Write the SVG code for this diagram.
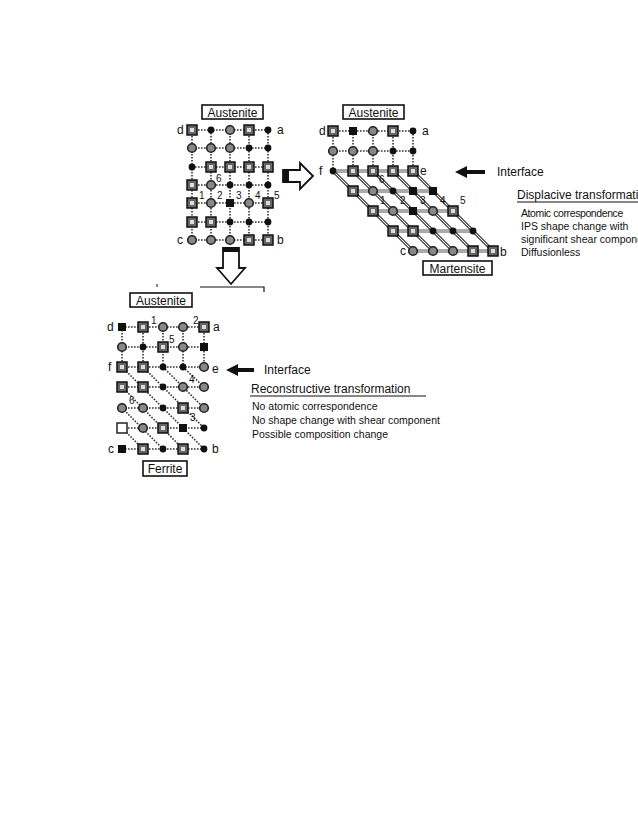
<svg xmlns="http://www.w3.org/2000/svg" xmlns:xlink="http://www.w3.org/1999/xlink" width="638" height="826" viewBox="0 0 638 826">
<style>
text{font-family:"Liberation Sans",Arial,sans-serif;fill:#111}
.lb{font-size:12px}
.num{font-size:10px}
.dot{stroke:#333;stroke-width:1.6;stroke-dasharray:1.6 1.4;fill:none}
.sh1{stroke:#555;stroke-width:3.2;fill:none}
.sh2{stroke:#fff;stroke-width:1;fill:none}
.box{fill:#fff;stroke:#111;stroke-width:1.6}
.t{font-size:12px}
.s{font-size:10.5px}
</style>
<defs>
<g id="S"><rect x="-5" y="-5" width="10" height="10" fill="#666" stroke="#111" stroke-width="1.5"/><rect x="-2" y="-2" width="4" height="4" fill="#ddd"/></g>
<g id="C"><circle r="4.3" fill="#888" stroke="#222" stroke-width="1.6"/></g>
<g id="D"><circle r="3.4" fill="#111"/></g>
<g id="F"><rect x="-4" y="-4" width="8" height="8" fill="#111"/></g>
<g id="O"><rect x="-5" y="-5" width="10" height="10" fill="#fff" stroke="#222" stroke-width="1.5"/></g>
</defs>
<rect width="638" height="826" fill="#fff"/>

<g id="connectors">
<!-- lattice 1 grid -->
<path class="dot" d="M192 130H268M192 148H268M192 167H268M192 185H268M192 203H268M192 222H268M192 240H268M192 130V240M211 130V240M230 130V240M249 130V240M268 130V240"/>
<!-- lattice 2 top grid -->
<path class="dot" d="M333 131H413M333 151H413M333 171H413M333 131V171M353 131V171M373 131V171M393 131V171M413 131V171"/>
<path class="sh1" d="M333 171H413M353 191H433M373 211H453M393 231H473M413 251H493M333 171L413 251M353 171L433 251M373 171L453 251M393 171L473 251M413 171L493 251"/>
<path class="sh2" d="M333 171H413M353 191H433M373 211H453M393 231H473M413 251H493M333 171L413 251M353 171L433 251M373 171L453 251M393 171L473 251M413 171L493 251"/>
<!-- lattice 3 -->
<path class="dot" d="M122 327H204M122 347H204M122 367H204M122 327V367M143 327V367M163 327V367M183 327V367M204 327V367M122 387H204M122 408H204M122 428H204M122 449H204"/>
<path class="dot" d="M122 367L204 449M143 367L204 428M163 367L204 408M183 367L204 387M122 387L183 449M122 408L163 449M122 428L143 449"/>
<!-- arrows -->
<path d="M283 170H300V163L313 176L300 189V182H283Z" fill="#fff" stroke="#111" stroke-width="1.8"/>
<rect x="283" y="170" width="6" height="12" fill="#111"/>
<path d="M223 248H239V268H245L231 284L217 268H223Z" fill="#fff" stroke="#111" stroke-width="1.8"/>
<rect x="223" y="247" width="16" height="5" fill="#111"/>
<path d="M200 287H264V292" fill="none" stroke="#111" stroke-width="1.2"/>
<path d="M157 284V287" stroke="#111" stroke-width="1"/>
<path d="M485 170H467V166L455 172L467 178V174H485Z" fill="#111"/>
<path d="M254 368H238V364L226 370L238 376V372H254Z" fill="#111"/>
</g>

<g id="lattice1">
<rect class="box" x="202" y="105" width="61" height="14"/><text class="lb" x="232.5" y="117" text-anchor="middle">Austenite</text>
<text class="lb" x="177" y="134">d</text><text class="lb" x="277" y="134">a</text>
<text class="lb" x="177" y="244">c</text><text class="lb" x="277" y="244">b</text>
<use href="#S" x="192" y="130"/><use href="#D" x="211" y="130"/><use href="#C" x="230" y="130"/><use href="#S" x="249" y="130"/><use href="#D" x="268" y="130"/>
<use href="#C" x="192" y="148"/><use href="#C" x="211" y="148"/><use href="#C" x="230" y="148"/><use href="#D" x="249" y="148"/><use href="#D" x="268" y="148"/>
<use href="#D" x="192" y="167"/><use href="#S" x="211" y="167"/><use href="#S" x="230" y="167"/><use href="#S" x="249" y="167"/><use href="#S" x="268" y="167"/>
<use href="#S" x="192" y="185"/><use href="#C" x="211" y="185"/><use href="#D" x="230" y="185"/><use href="#D" x="249" y="185"/><use href="#D" x="268" y="185"/>
<use href="#S" x="192" y="203"/><use href="#C" x="211" y="203"/><use href="#F" x="230" y="203"/><use href="#C" x="249" y="203"/><use href="#S" x="268" y="203"/>
<use href="#S" x="192" y="222"/><use href="#S" x="211" y="222"/><use href="#D" x="230" y="222"/><use href="#D" x="249" y="222"/><use href="#D" x="268" y="222"/>
<use href="#C" x="192" y="240"/><use href="#C" x="211" y="240"/><use href="#C" x="230" y="240"/><use href="#S" x="249" y="240"/><use href="#S" x="268" y="240"/>
<text class="num" x="216" y="182">6</text>
<text class="num" x="199" y="199">1</text><text class="num" x="217" y="199">2</text><text class="num" x="236" y="199">3</text><text class="num" x="255" y="199">4</text><text class="num" x="274" y="199">5</text>
</g>

<g id="lattice2">
<rect class="box" x="343" y="105" width="61" height="14"/><text class="lb" x="373.5" y="117" text-anchor="middle">Austenite</text>
<text class="lb" x="319" y="135">d</text><text class="lb" x="422" y="135">a</text>
<text class="lb" x="319" y="175">f</text><text class="lb" x="420" y="175">e</text>
<text class="lb" x="400" y="255">c</text><text class="lb" x="500" y="256">b</text>
<use href="#S" x="333" y="131"/><use href="#F" x="353" y="131"/><use href="#C" x="373" y="131"/><use href="#S" x="393" y="131"/><use href="#D" x="413" y="131"/>
<use href="#C" x="333" y="151"/><use href="#C" x="353" y="151"/><use href="#C" x="373" y="151"/><use href="#D" x="393" y="151"/><use href="#D" x="413" y="151"/>
<use href="#D" x="333" y="171"/><use href="#S" x="353" y="171"/><use href="#S" x="373" y="171"/><use href="#S" x="393" y="171"/><use href="#S" x="413" y="171"/>
<use href="#S" x="353" y="191"/><use href="#C" x="373" y="191"/><use href="#D" x="393" y="191"/><use href="#F" x="413" y="191"/><use href="#F" x="433" y="191"/>
<use href="#S" x="373" y="211"/><use href="#C" x="393" y="211"/><use href="#F" x="413" y="211"/><use href="#C" x="433" y="211"/><use href="#S" x="453" y="211"/>
<use href="#S" x="393" y="231"/><use href="#S" x="413" y="231"/><use href="#D" x="433" y="231"/><use href="#D" x="453" y="231"/><use href="#D" x="473" y="231"/>
<use href="#C" x="413" y="251"/><use href="#C" x="433" y="251"/><use href="#C" x="453" y="251"/><use href="#S" x="473" y="251"/><use href="#S" x="493" y="251"/>
<text class="num" x="379" y="183">6</text>
<text class="num" x="380" y="204">1</text><text class="num" x="400" y="204">2</text><text class="num" x="420" y="204">3</text><text class="num" x="440" y="204">4</text><text class="num" x="460" y="204">5</text>
<rect class="box" x="423" y="261" width="69" height="14"/><text class="lb" x="457.5" y="273" text-anchor="middle">Martensite</text>
</g>

<g id="text-right">
<text class="t" x="497" y="176">Interface</text>
<text class="t" x="517" y="199">Displacive transformation</text>
<path d="M517 202H660" stroke="#111" stroke-width="1"/>
<text class="s" x="521" y="217" letter-spacing="-0.4">Atomic correspondence</text>
<text class="s" x="521" y="230">IPS shape change with</text>
<text class="s" x="521" y="243">significant shear component</text>
<text class="s" x="521" y="256">Diffusionless</text>
</g>

<g id="lattice3">
<rect class="box" x="130" y="293" width="62" height="14"/><text class="lb" x="161" y="305" text-anchor="middle">Austenite</text>
<text class="lb" x="107" y="331">d</text><text class="lb" x="213" y="331">a</text>
<text class="lb" x="108" y="371">f</text><text class="lb" x="212" y="373">e</text>
<text class="lb" x="108" y="453">c</text><text class="lb" x="212" y="453">b</text>
<use href="#F" x="122" y="327"/><use href="#S" x="143" y="327"/><use href="#C" x="163" y="327"/><use href="#C" x="183" y="327"/><use href="#S" x="204" y="327"/>
<use href="#C" x="122" y="347"/><use href="#D" x="143" y="347"/><use href="#S" x="163" y="347"/><use href="#C" x="183" y="347"/><use href="#F" x="204" y="347"/>
<use href="#S" x="122" y="367"/><use href="#S" x="143" y="367"/><use href="#D" x="163" y="367"/><use href="#D" x="183" y="367"/><use href="#C" x="204" y="367"/>
<use href="#S" x="122" y="387"/><use href="#S" x="143" y="387"/><use href="#D" x="163" y="387"/><use href="#C" x="183" y="387"/><use href="#C" x="204" y="387"/>
<use href="#C" x="122" y="408"/><use href="#C" x="143" y="408"/><use href="#D" x="163" y="408"/><use href="#S" x="183" y="408"/><use href="#C" x="204" y="408"/>
<use href="#O" x="122" y="428"/><use href="#C" x="143" y="428"/><use href="#S" x="163" y="428"/><use href="#F" x="183" y="428"/><use href="#D" x="204" y="428"/>
<use href="#F" x="122" y="449"/><use href="#S" x="143" y="449"/><use href="#D" x="163" y="449"/><use href="#S" x="183" y="449"/><use href="#D" x="204" y="449"/>
<text class="num" x="151" y="324">1</text><text class="num" x="193" y="324">2</text><text class="num" x="169" y="343">5</text>
<text class="num" x="189" y="383">4</text><text class="num" x="129" y="404">6</text><text class="num" x="190" y="421">3</text>
<rect class="box" x="143" y="461" width="44" height="15"/><text class="lb" x="165" y="473" text-anchor="middle">Ferrite</text>
</g>

<g id="text-bottom">
<text class="t" x="264" y="374">Interface</text>
<text class="t" x="251" y="393">Reconstructive transformation</text>
<path d="M250 396H426" stroke="#111" stroke-width="1"/>
<text class="s" x="252" y="410">No atomic correspondence</text>
<text class="s" x="252" y="424">No shape change with shear component</text>
<text class="s" x="252" y="438">Possible composition change</text>
</g>
</svg>
